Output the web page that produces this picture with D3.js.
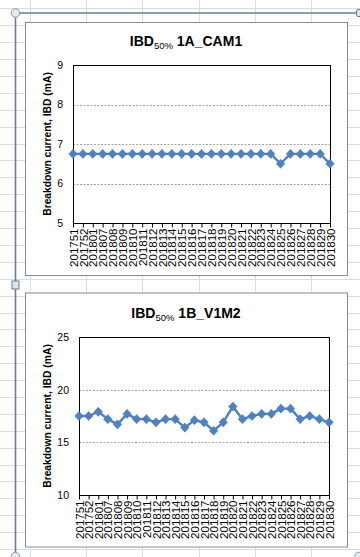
<!DOCTYPE html>
<html>
<head>
<meta charset="utf-8">
<script src="https://cdn.jsdelivr.net/npm/d3@7"></script>
<style>
  html, body { margin: 0; padding: 0; background: #fff; }
  svg { display: block; }
</style>
</head>
<body>
<svg id="root" width="360" height="557"></svg>
<script>
// ---------------- data ----------------
const categories = ["201751","201752","201801","201807","201808","201809","201810","201811","201812","201813","201814","201815","201816","201817","201818","201819","201820","201821","201822","201823","201824","201825","201826","201827","201828","201829","201830"];
const cam1Values = [6.75,6.75,6.75,6.75,6.75,6.75,6.75,6.75,6.75,6.75,6.75,6.75,6.75,6.75,6.75,6.75,6.75,6.75,6.75,6.75,6.75,6.5,6.75,6.75,6.75,6.75,6.5];
const v1m2Values = [17.5,17.5,17.9,17.2,16.7,17.7,17.2,17.2,16.9,17.2,17.2,16.4,17.1,16.9,16.1,16.9,18.4,17.2,17.5,17.7,17.7,18.2,18.2,17.2,17.5,17.2,16.9];
const cam1Ticks = [5,6,7,8,9];
const v1m2Ticks = [10,15,20,25];
const cam1Title = ["IBD", "50%", " 1A_CAM1"];
const v1m2Title = ["IBD", "50%", " 1B_V1M2"];
const yAxisTitle = "Breakdown current, IBD (mA)";

// ---------------- drawing ----------------
const svg = d3.select("#root");
const W = 360, H = 557;

// spreadsheet gridlines
const sheet = svg.append("g");
const rowYs = d3.range(0, 34).map(k => 8.3 + 16.9 * k);
const colXs = d3.range(0, 6).map(k => 30 + 56.2 * k);
sheet.selectAll("line.row").data(rowYs).enter().append("line")
  .attr("x1", 0).attr("x2", W).attr("y1", d => Math.round(d) + 0.5).attr("y2", d => Math.round(d) + 0.5)
  .attr("stroke", "#dadcdf").attr("stroke-width", 1);
sheet.selectAll("line.col").data(colXs).enter().append("line")
  .attr("y1", 0).attr("y2", H).attr("x1", d => Math.round(d) + 0.5).attr("x2", d => Math.round(d) + 0.5)
  .attr("stroke", "#dadcdf").attr("stroke-width", 1);

// selection frame
const frameColor = "#6b7d91";
svg.append("line").attr("x1", 15.5).attr("x2", 15.5).attr("y1", 13).attr("y2", H).attr("stroke", frameColor).attr("stroke-width", 1.6);
svg.append("line").attr("x1", 15).attr("x2", 358).attr("y1", 13).attr("y2", 13).attr("stroke", frameColor).attr("stroke-width", 1.6);

function drawChart(cfg) {
  const g = svg.append("g");
  // chart box
  g.append("rect").attr("x", cfg.box.x).attr("y", cfg.box.y).attr("width", cfg.box.w).attr("height", cfg.box.h)
    .attr("fill", "#fff").attr("stroke", "#8a8a8a").attr("stroke-width", 1);

  const x = d3.scalePoint().domain(categories).range([cfg.plot.l, cfg.plot.r]).padding(0);
  const y = d3.scaleLinear().domain(cfg.domain).range([cfg.plot.b, cfg.plot.t]);

  // gridlines (inner)
  g.append("g").selectAll("line").data(cfg.ticks.slice(1, -1)).enter().append("line")
    .attr("x1", cfg.plot.l).attr("x2", cfg.plot.r)
    .attr("y1", d => Math.round(y(d)) + 0.5).attr("y2", d => Math.round(y(d)) + 0.5)
    .attr("stroke", "#8c8c8c").attr("stroke-width", 0.8).attr("stroke-dasharray", "2,1.5");

  // plot border
  g.append("rect").attr("x", cfg.plot.l + 0.5).attr("y", cfg.plot.t + 0.5)
    .attr("width", cfg.plot.r - cfg.plot.l).attr("height", cfg.plot.b - cfg.plot.t)
    .attr("fill", "none").attr("stroke", "#000").attr("stroke-width", 1);

  // y axis
  const yAxis = d3.axisLeft(y).tickValues(cfg.ticks).tickSize(0).tickPadding(10).tickFormat(d3.format("d"));
  const ya = g.append("g").attr("transform", `translate(${cfg.plot.l},0)`).call(yAxis);
  ya.select(".domain").remove();
  ya.selectAll("text").attr("font-family", "'Liberation Sans', Arial, sans-serif").attr("font-size", 10.5).attr("fill", "#000");

  // x axis
  const xAxis = d3.axisBottom(x).tickSize(4).tickPadding(2);
  const xa = g.append("g").attr("transform", `translate(0,${cfg.plot.b + 0.5})`).call(xAxis);
  xa.select(".domain").remove();
  xa.selectAll("line").attr("stroke", "#000");
  xa.selectAll("text")
    .attr("font-family", "'Liberation Sans', Arial, sans-serif").attr("font-size", 11.5).attr("fill", "#000")
    .attr("transform", "rotate(-90)")
    .attr("text-anchor", "end")
    .attr("x", -5).attr("y", 0).attr("dy", "0.36em");

  // y axis title
  const cy = (cfg.plot.t + cfg.plot.b) / 2;
  g.append("text").attr("transform", `translate(50.5,${cy}) rotate(-90)`)
    .attr("text-anchor", "middle")
    .attr("font-family", "'Liberation Sans', Arial, sans-serif").attr("font-weight", "bold").attr("font-size", 10.3)
    .text(yAxisTitle);

  // chart title
  const t = g.append("text").attr("x", cfg.titleX).attr("y", cfg.titleY).attr("text-anchor", "middle")
    .attr("font-family", "'Liberation Sans', Arial, sans-serif").attr("font-weight", "bold").attr("font-size", 14);
  t.append("tspan").text(cfg.title[0]);
  t.append("tspan").attr("font-size", 9.5).attr("font-weight", "normal").attr("dy", 3).text(cfg.title[1]);
  t.append("tspan").attr("dy", -3).text(cfg.title[2]);

  // line
  const pts = categories.map((c, i) => [x(c), y(cfg.values[i])]);
  g.append("path").attr("d", d3.line()(pts)).attr("fill", "none")
    .attr("stroke", "#4f81bd").attr("stroke-width", 2.4).attr("stroke-linejoin", "round");
  g.append("g").selectAll("path").data(pts).enter().append("path")
    .attr("transform", d => `translate(${d[0]},${d[1]})`)
    .attr("d", "M0,-4.6L4.3,0L0,4.6L-4.3,0Z")
    .attr("fill", "#4f81bd").attr("stroke", "#4a7ab5").attr("stroke-width", 0.5);
}

drawChart({
  box: {x: 25.5, y: 22.5, w: 322, h: 253},
  plot: {l: 73, r: 330, t: 65, b: 223},
  domain: [5, 9], ticks: cam1Ticks, values: cam1Values,
  title: cam1Title, titleX: 186, titleY: 45.5
});
drawChart({
  box: {x: 25.5, y: 293, w: 322, h: 254},
  plot: {l: 79, r: 329, t: 337, b: 495},
  domain: [10, 25], ticks: v1m2Ticks, values: v1m2Values,
  title: v1m2Title, titleX: 186, titleY: 317.5
});

// handles
svg.append("circle").attr("cx", 15.5).attr("cy", 13).attr("r", 4.3).attr("fill", "#e3ebf4").attr("stroke", "#8497ab").attr("stroke-width", 1);
svg.append("rect").attr("x", 12).attr("y", 281).attr("width", 7).attr("height", 8).attr("fill", "#dbe5f0").attr("stroke", frameColor).attr("stroke-width", 1);
svg.append("circle").attr("cx", 15.5).attr("cy", 556.5).attr("r", 4.3).attr("fill", "#e3ebf4").attr("stroke", "#8497ab").attr("stroke-width", 1);
svg.append("circle").attr("cx", 359).attr("cy", 556.5).attr("r", 4.3).attr("fill", "#e3ebf4").attr("stroke", "#8497ab").attr("stroke-width", 1);
svg.append("rect").attr("x", 356.5).attr("y", 9.5).attr("width", 7).attr("height", 7).attr("rx", 1.5).attr("fill", "#dbe5f0").attr("stroke", frameColor).attr("stroke-width", 1);
</script>
</body>
</html>
